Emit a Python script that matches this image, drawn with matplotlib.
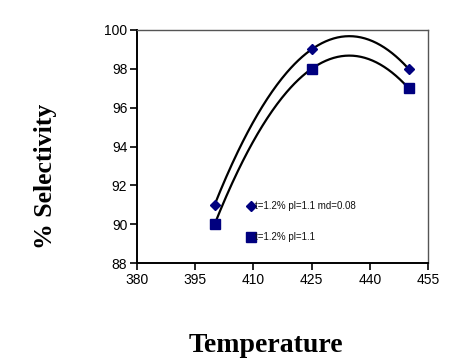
#!/usr/bin/env python3
import numpy as np
import matplotlib
matplotlib.use("Agg")
import matplotlib.pyplot as plt

# --- Data ---
temperature = [400, 425, 450]
sel_md = [91, 99, 98]        # t=1.2% pl=1.1 md=0.08
sel_base = [90, 98, 97]      # t=1.2% pl=1.1
label_md = "t=1.2% pl=1.1 md=0.08"
label_base = "t=1.2% pl=1.1"
x_ticks = [380, 395, 410, 425, 440, 455]
y_ticks = [88, 90, 92, 94, 96, 98, 100]

navy = "#00007f"

fig = plt.figure(figsize=(4.74, 3.61), dpi=100)
ax = fig.add_axes([0.289, 0.271, 0.614, 0.646])

# polynomial (order 2) trendlines, as in the original spreadsheet chart
xs = np.linspace(temperature[0], temperature[-1], 200)
for ys in (sel_md, sel_base):
    coef = np.polyfit(temperature, ys, 2)
    ax.plot(xs, np.polyval(coef, xs), color="k", lw=1.6, zorder=1)

ax.plot(temperature, sel_md, linestyle="none", marker="D", ms=5.5,
        color=navy, label=label_md, zorder=2)
ax.plot(temperature, sel_base, linestyle="none", marker="s", ms=7,
        color=navy, label=label_base, zorder=2)

ax.set_xlim(380, 455)
ax.set_ylim(88, 100)
ax.set_xticks(x_ticks)
ax.set_yticks(y_ticks)

tick_font = {"family": "Liberation Sans", "size": 10}
ax.set_xticklabels([str(t) for t in x_ticks], fontdict=tick_font)
ax.set_yticklabels([str(t) for t in y_ticks], fontdict=tick_font)
ax.tick_params(direction="out", length=5, width=1.2, pad=2, colors="k")

for side in ("left", "bottom"):
    ax.spines[side].set_linewidth(1.4)
    ax.spines[side].set_color("k")
for side in ("top", "right"):
    ax.spines[side].set_linewidth(1.0)
    ax.spines[side].set_color("#555555")

fig.text(0.561, 0.044, "Temperature", ha="center", va="center",
         family="Liberation Serif", weight="bold", size=20)
fig.text(0.095, 0.512, "% Selectivity", ha="center", va="center", rotation=90,
         family="Liberation Serif", weight="bold", size=18.5)

leg = ax.legend(loc="lower left", bbox_to_anchor=(0.36, 0.06), frameon=False,
                prop={"family": "Liberation Sans", "size": 7},
                handlelength=0.6, handletextpad=0.1, labelspacing=2.2,
                borderpad=0.2)
for t in leg.get_texts():
    t.set_color("#111111")

fig.savefig("out.png", dpi=100)
